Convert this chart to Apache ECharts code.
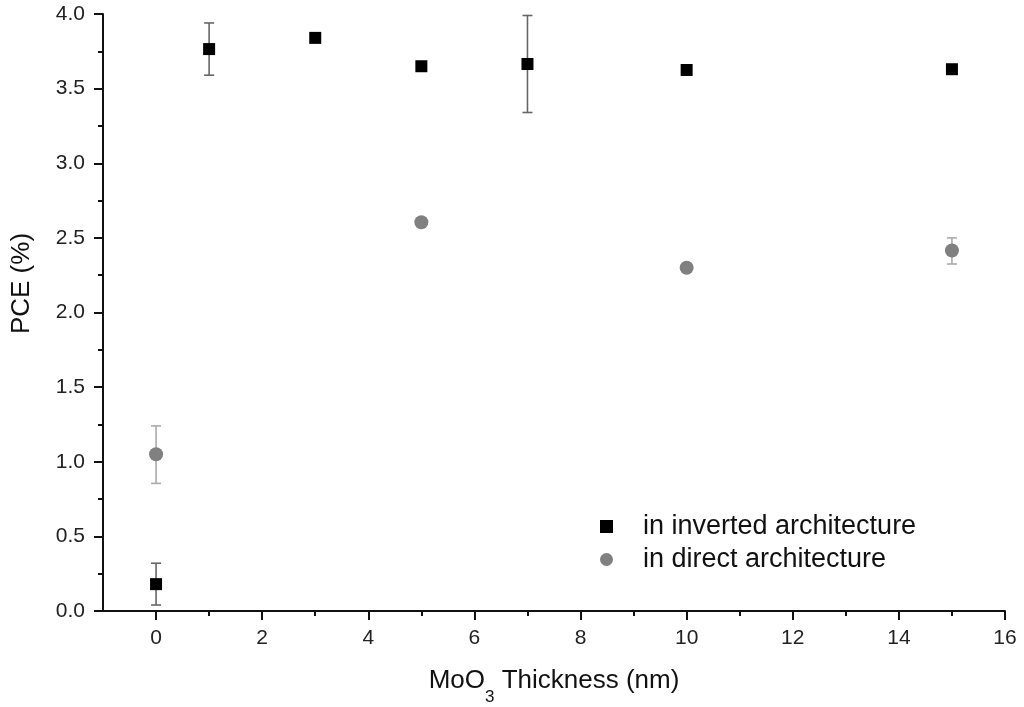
<!DOCTYPE html>
<html><head><meta charset="utf-8">
<script src="https://cdn.jsdelivr.net/npm/echarts@6/dist/echarts.min.js"></script>
<style>html,body{margin:0;padding:0;background:#fff}#c{width:1024px;height:707px}</style>
</head><body><div id="c"></div>
<script>
// Data
const invX = [0, 1, 3, 5, 7, 10, 15];
const invPCE = [0.18, 3.765, 3.84, 3.65, 3.665, 3.625, 3.63];
const invErrX = [0, 1, 7];
const invErrLow = [0.04, 3.59, 3.34];
const invErrHigh = [0.32, 3.94, 3.99];
const dirX = [0, 5, 10, 15];
const dirPCE = [1.05, 2.605, 2.30, 2.415];
const dirErrX = [0, 15];
const dirErrLow = [0.855, 2.325];
const dirErrHigh = [1.24, 2.50];
const xMajorTicks = [0, 2, 4, 6, 8, 10, 12, 14, 16];
const xMinorTicks = [1, 3, 5, 7, 9, 11, 13, 15];
const seriesNames = ['in inverted architecture', 'in direct architecture'];

const FONT = 'Liberation Sans, Arial, sans-serif';

function errRender(color) {
  return function (params, api) {
    const x = api.value(0), lo = api.value(1), hi = api.value(2);
    const pLo = api.coord([x, lo]), pHi = api.coord([x, hi]);
    const w = 5;
    const style = { stroke: color, lineWidth: 1.6, fill: null };
    return {
      type: 'group',
      children: [
        { type: 'line', shape: { x1: pLo[0], y1: pLo[1], x2: pHi[0], y2: pHi[1] }, style: style },
        { type: 'line', shape: { x1: pLo[0] - w, y1: pLo[1], x2: pLo[0] + w, y2: pLo[1] }, style: style },
        { type: 'line', shape: { x1: pHi[0] - w, y1: pHi[1], x2: pHi[0] + w, y2: pHi[1] }, style: style }
      ]
    };
  };
}

const chart = echarts.init(document.getElementById('c'), null, { renderer: 'canvas' });
chart.setOption({
  animation: false,
  backgroundColor: '#fff',
  textStyle: { fontFamily: FONT },
  grid: { left: 103, right: 19, top: 14, bottom: 96, containLabel: false, outerBoundsMode: 'none' },
  legend: {
    data: seriesNames,
    orient: 'vertical',
    left: 600,
    top: 513,
    padding: 0,
    itemWidth: 13,
    itemHeight: 13,
    itemGap: 6,
    textStyle: { fontSize: 27, color: '#111', fontFamily: FONT, padding: [0, 0, 0, 25] }
  },
  xAxis: [
    {
      type: 'value', min: -1, max: 16,
      name: '{a|MoO}{s|3}{a| Thickness (nm)}',
      nameLocation: 'middle', nameGap: 57,
      nameTextStyle: {
        rich: {
          a: { fontSize: 26, color: '#111', fontFamily: FONT, lineHeight: 30, verticalAlign: 'top' },
          s: { fontSize: 17, color: '#111', fontFamily: FONT, lineHeight: 17, padding: [21, 0, 0, 0], verticalAlign: 'top' }
        }
      },
      axisLine: { show: true, onZero: false, lineStyle: { color: '#111', width: 2 } },
      axisTick: { show: true, customValues: xMajorTicks, length: 9, lineStyle: { color: '#111', width: 2 } },
      axisLabel: { customValues: xMajorTicks, fontSize: 21, color: '#222', margin: 17, fontFamily: FONT },
      splitLine: { show: false }
    },
    {
      type: 'value', min: -1, max: 16, position: 'bottom',
      axisLine: { show: false, onZero: false },
      axisTick: { show: true, customValues: xMinorTicks, length: 5, lineStyle: { color: '#111', width: 2 } },
      axisLabel: { show: false },
      splitLine: { show: false }
    }
  ],
  yAxis: {
    type: 'value', min: 0, max: 4, interval: 0.5,
    name: 'PCE (%)', nameLocation: 'middle', nameGap: 68,
    nameTextStyle: { fontSize: 26, color: '#111', fontFamily: FONT, padding: [0, 0, 0, 58] },
    axisLine: { show: true, onZero: false, lineStyle: { color: '#111', width: 2 } },
    axisTick: { show: true, length: 9, lineStyle: { color: '#111', width: 2 } },
    minorTick: { show: true, splitNumber: 2, length: 5, lineStyle: { color: '#111', width: 2 } },
    axisLabel: { fontSize: 21, color: '#222', margin: 18, fontFamily: FONT, formatter: v => v.toFixed(1) },
    splitLine: { show: false },
    minorSplitLine: { show: false }
  },
  series: [
    {
      type: 'custom', silent: true, xAxisIndex: 0, z: 1,
      renderItem: errRender('#666'),
      encode: { x: 0, y: [1, 2] },
      data: invErrX.map((x, i) => [x, invErrLow[i], invErrHigh[i]])
    },
    {
      type: 'custom', silent: true, xAxisIndex: 0, z: 1,
      renderItem: errRender('#aaa'),
      encode: { x: 0, y: [1, 2] },
      data: dirErrX.map((x, i) => [x, dirErrLow[i], dirErrHigh[i]])
    },
    {
      name: seriesNames[0], type: 'scatter', xAxisIndex: 0, z: 3,
      symbol: 'rect', symbolSize: 12,
      itemStyle: { color: '#000', opacity: 1 },
      data: invX.map((x, i) => [x, invPCE[i]])
    },
    {
      name: seriesNames[1], type: 'scatter', xAxisIndex: 0, z: 3,
      symbol: 'circle', symbolSize: 14,
      itemStyle: { color: '#808080', opacity: 1 },
      data: dirX.map((x, i) => [x, dirPCE[i]])
    }
  ]
});
</script>
</body></html>
